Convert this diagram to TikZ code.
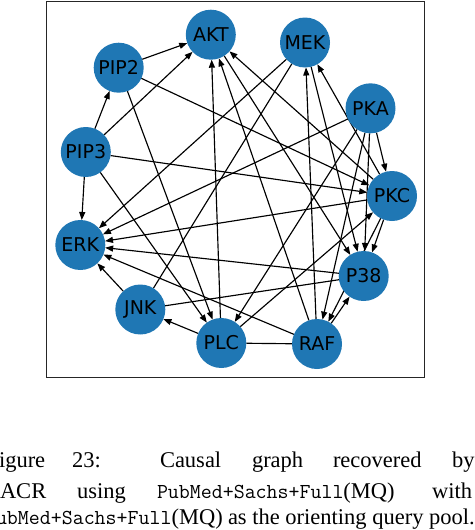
\documentclass[tikz,border=0pt]{standalone}
\usepackage{fontspec}
\setmainfont{Liberation Serif}
\newfontfamily\nodefont{DejaVu Sans}
\usetikzlibrary{arrows.meta,backgrounds}
\definecolor{mplblue}{HTML}{1F77B4}
\newcommand{\mytt}[1]{{\ttfamily\fontsize{21.3}{26}\selectfont #1}}
\begin{document}
\begin{tikzpicture}[x=1pt,y=-1pt,
  gnode/.style={circle,fill=mplblue,draw=none,minimum size=50pt,inner sep=0pt,outer sep=0pt,
    font=\nodefont\fontsize{19}{21}\selectfont,text=black},
  arr/.style={draw=black,line width=1.15pt,-{Triangle[length=8pt,width=6pt]}},
  lnk/.style={draw=black,line width=1.15pt},
  captext/.style={font=\fontsize{22.5}{26}\selectfont,anchor=base west,inner sep=0pt,outer sep=0pt}]
\useasboundingbox (0,0) rectangle (474,530);
\draw[line width=0.9pt,black!85] (46.7,1.5) rectangle (424.3,377.3);
% nodes
\node[gnode] (AKT)  at (210.8,34.7)  {AKT};
\node[gnode] (MEK)  at (305,42.5)    {MEK};
\node[gnode] (PIP2) at (118.7,67.7)  {PIP2};
\node[gnode] (PKA)  at (370.5,108.3) {PKA};
\node[gnode] (PIP3) at (85.8,152)    {PIP3};
\node[gnode] (PKC)  at (392,196)     {PKC};
\node[gnode] (ERK)  at (80.3,245)    {ERK};
\node[gnode] (P38)  at (363.7,276)   {P38};
\node[gnode] (JNK)  at (140.3,309.5) {JNK};
\node[gnode] (PLC)  at (221.3,343)   {PLC};
\node[gnode] (RAF)  at (317,344)     {RAF};
\begin{pgfonlayer}{background}
\draw[arr] (PIP2) -- (AKT);
\draw[arr] (PIP3) -- (AKT);
\draw[arr] (PLC) -- (AKT);
\draw[arr] (RAF) -- (AKT);
\draw[arr] (PKC) -- (AKT);
\draw[arr] (AKT) -- (P38);
\draw[arr] (PIP3) -- (PIP2);
\draw[arr] (PIP3) -- (ERK);
\draw[arr] (PIP3) -- (PKC);
\draw[arr] (PIP3) -- (PLC);
\draw[arr] (PIP2) -- (PKC);
\draw[arr] (PIP2) -- (PLC);
\draw[arr] (MEK) -- (ERK);
\draw[lnk] (MEK) -- (JNK);
\draw[arr] (MEK) -- (P38);
\draw[arr] (RAF) -- (MEK);
\draw[arr] (PKC) -- (MEK);
\draw[arr] (PKA) -- (ERK);
\draw[arr] (PKA) -- (PLC);
\draw[arr] (PKA) -- (RAF);
\draw[arr] (PKA) -- (P38);
\draw[arr] (PKA) -- (PKC);
\draw[arr] (PKC) -- (ERK);
\draw[arr] (PKC) -- (P38);
\draw[arr] (PKC) -- (RAF);
\draw[arr] (PLC) -- (PKC);
\draw[arr] (P38) -- (ERK);
\draw[lnk] (P38) -- (JNK);
\draw[arr] (RAF) -- (ERK);
\draw[arr] (RAF) -- (P38);
\draw[arr] (JNK) -- (ERK);
\draw[arr] (PLC) -- (JNK);
\draw[lnk] (PLC) -- (RAF);
\end{pgfonlayer}
% caption
\node[captext] (c1) at (-1,467) {igure};
\node[captext] (c2) at (72,467) {23:};
\node[captext] (c3) at (160,467) {Causal};
\node[captext] (c4) at (252,467) {graph};
\node[captext] (c5) at (333,467) {recovered};
\node[captext] (c6) at (452,467) {by};
\node[captext] (c7) at (0,498) {ACR};
\node[captext] (c8) at (77,498) {using};
\node[captext] (c9) at (157,498) {\mytt{PubMed+Sachs+Full}(MQ)};
\node[captext] (c10) at (432,498) {with};
\node[captext] (c11) at (-4,524) {\mytt{ubMed+Sachs+Full}(MQ)};
\node[captext] (c12) at (228,524) {as the orienting query pool.};
\end{tikzpicture}
\end{document}
